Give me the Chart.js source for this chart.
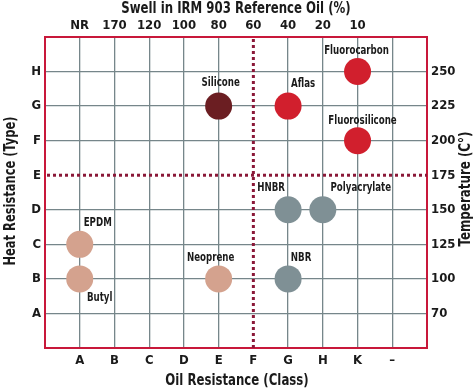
<!DOCTYPE html>
<html>
<head>
<meta charset="utf-8">
<script src="https://cdn.jsdelivr.net/npm/chart.js@4"></script>
<style>
  html, body { margin: 0; padding: 0; background: #fff; }
</style>
</head>
<body>
<canvas id="myChart" width="474" height="390"></canvas>
<script>
// axis categories (position 1..n on each axis)
const oilClasses = ["A", "B", "C", "D", "E", "F", "G", "H", "K", "\u2013"];
const swellLabels = ["NR", "170", "120", "100", "80", "60", "40", "20", "10", ""];
const heatTypes = ["A", "B", "C", "D", "E", "F", "G", "H"];
const tempLabels = ["70", "100", "125", "150", "175", "200", "225", "250"];

// elastomers
const materials = ["Fluorocarbon", "Silicone", "Aflas", "Fluorosilicone", "HNBR", "Polyacrylate", "NBR", "EPDM", "Butyl", "Neoprene"];
const oilClass = ["K", "E", "G", "K", "G", "H", "G", "A", "A", "E"];
const heatType = ["H", "G", "G", "F", "D", "D", "B", "C", "B", "B"];
const group = ["red", "dark", "red", "red", "gray", "gray", "gray", "tan", "tan", "tan"];

const groupColors = { red: "#d11f2d", dark: "#6b1e22", gray: "#7f9095", tan: "#d4a28e" };
// label nudges in pixels from the dot centre
const labelNudge = {
  Fluorocarbon: [-1, -21], Silicone: [2, -23], Aflas: [15, -22], Fluorosilicone: [5, -20],
  HNBR: [-17, -22], Polyacrylate: [38, -22], NBR: [13, -21], EPDM: [18, -22],
  Butyl: [20, 19], Neoprene: [-8, -21]
};

const FONT = "'Liberation Sans Narrow', 'DejaVu Sans Condensed', sans-serif";
const INK = "#1a1a1a";
const frame = "#c8183a";
const dotted = "#8a1838";

const points = materials.map((m, i) => ({
  x: oilClasses.indexOf(oilClass[i]) + 1,
  y: heatTypes.indexOf(heatType[i]) + 1
}));

// draw text squeezed horizontally (the original uses a condensed face)
function squeezed(ctx, text, x, y, rot, sx) {
  ctx.save();
  ctx.translate(x, y);
  ctx.rotate(rot);
  ctx.scale(sx, 1);
  ctx.fillText(text, 0, 0);
  ctx.restore();
}

const extras = {
  id: "extras",
  beforeDatasetsDraw(chart) {
    const { ctx, chartArea: a, scales } = chart;
    ctx.save();
    ctx.strokeStyle = dotted;
    ctx.lineWidth = 3;
    ctx.setLineDash([3, 3]);
    const fx = scales.x.getPixelForValue(oilClasses.indexOf("F") + 1);
    ctx.beginPath();
    ctx.moveTo(fx, a.top + 2);
    ctx.lineTo(fx, a.bottom);
    ctx.stroke();
    const ey = scales.y.getPixelForValue(heatTypes.indexOf("E") + 1);
    ctx.beginPath();
    ctx.moveTo(a.left + 2, ey);
    ctx.lineTo(a.right, ey);
    ctx.stroke();
    ctx.restore();
  },
  afterDatasetsDraw(chart) {
    const { ctx, chartArea: a } = chart;
    const meta = chart.getDatasetMeta(0);
    ctx.save();
    ctx.fillStyle = INK;
    ctx.textAlign = "center";
    ctx.textBaseline = "middle";
    ctx.font = "bold 12.5px " + FONT;
    meta.data.forEach((pt, i) => {
      const n = labelNudge[materials[i]] || [0, -22];
      squeezed(ctx, materials[i], pt.x + n[0], pt.y + n[1], 0, 0.77);
    });
    // axis titles
    ctx.font = "bold 15px " + FONT;
    const cx = (a.left + a.right) / 2, cy = (a.top + a.bottom) / 2;
    squeezed(ctx, "Swell in IRM 903 Reference Oil (%)", 236, 9, 0, 0.87);
    squeezed(ctx, "Oil Resistance (Class)", 237, 381, 0, 0.87);
    squeezed(ctx, "Heat Resistance (Type)", 11, 191, -Math.PI / 2, 0.85);
    squeezed(ctx, "Temperature (C\u00b0)", 466, 189, -Math.PI / 2, 0.88);
    ctx.restore();
  }
};

const tickFont = { family: FONT, size: 13, weight: "bold" };

new Chart(document.getElementById("myChart").getContext("2d"), {
  type: "scatter",
  data: {
    datasets: [{
      data: points,
      pointRadius: 13.5,
      pointHoverRadius: 13.5,
      pointBorderWidth: 0,
      pointBackgroundColor: group.map(g => groupColors[g]),
      pointBorderColor: group.map(g => groupColors[g])
    }]
  },
  options: {
    responsive: false,
    animation: false,
    events: [],
    layout: { padding: 0 },
    plugins: { legend: { display: false }, tooltip: { enabled: false } },
    scales: {
      x: {
        type: "linear", position: "bottom", min: 0, max: oilClasses.length + 1,
        afterFit: s => { s.height = 42; },
        border: { color: frame, width: 2 },
        grid: {
          drawTicks: false, lineWidth: 1.3,
          color: c => (c.tick.value <= 0 || c.tick.value > oilClasses.length || c.tick.value === 6) ? "rgba(0,0,0,0)" : "#76868a"
        },
        ticks: {
          stepSize: 1, autoSkip: false, maxRotation: 0, padding: 5, color: INK, font: tickFont,
          callback: v => oilClasses[v - 1] || ""
        }
      },
      x2: {
        type: "linear", position: "top", min: 0, max: oilClasses.length + 1,
        afterFit: s => { s.height = 37; },
        border: { color: frame, width: 2 },
        grid: { drawTicks: false, drawOnChartArea: false },
        ticks: {
          stepSize: 1, autoSkip: false, maxRotation: 0, padding: 4, color: INK, font: tickFont,
          callback: v => swellLabels[v - 1] || ""
        }
      },
      y: {
        type: "linear", position: "left", min: 0, max: heatTypes.length + 1,
        afterFit: s => { s.width = 45; },
        border: { color: frame, width: 2 },
        grid: {
          drawTicks: false, lineWidth: 1.3,
          color: c => (c.tick.value <= 0 || c.tick.value > heatTypes.length || c.tick.value === 5) ? "rgba(0,0,0,0)" : "#76868a"
        },
        ticks: {
          stepSize: 1, autoSkip: false, padding: 4, color: INK, font: tickFont,
          callback: v => heatTypes[v - 1] || ""
        }
      },
      y2: {
        type: "linear", position: "right", min: 0, max: heatTypes.length + 1,
        afterFit: s => { s.width = 47; },
        border: { color: frame, width: 2 },
        grid: { drawTicks: false, drawOnChartArea: false },
        ticks: {
          stepSize: 1, autoSkip: false, padding: 4, color: INK, font: tickFont,
          callback: v => tempLabels[v - 1] || ""
        }
      }
    }
  },
  plugins: [extras]
});
</script>
</body>
</html>
